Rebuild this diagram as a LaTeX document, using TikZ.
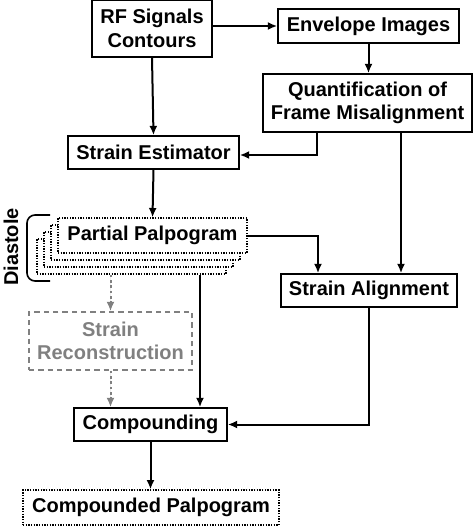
\documentclass[tikz,border=0pt]{standalone}
\usepackage{fontspec}
\setmainfont{Liberation Sans}
\usetikzlibrary{calc,arrows.meta}
\begin{document}
\begin{tikzpicture}[x=0.75pt,y=-0.75pt,
    box/.style={draw,line width=1.2pt,fill=white,inner sep=0pt,align=center,
      font=\fontsize{15}{17.5}\selectfont\bfseries},
    dotbox/.style={box,line width=1pt,dash pattern=on 1pt off 1pt},
    greybox/.style={box,draw=gray,text=gray,dash pattern=on 4pt off 3pt},
    arr/.style={-{Latex[length=7pt,width=6pt]},line width=1.5pt},
    greyarr/.style={arr,draw=gray,fill=gray,dash pattern=on 2pt off 2pt}]
      \useasboundingbox (0,0) rectangle (474,526);

      \node[box,minimum width=90pt,minimum height=42.75pt] (rf) at (152,28.5) {RF Signals\\Contours};
      \node[box,minimum width=135.75pt,minimum height=25.5pt] (env) at (368.5,26) {Envelope Images};
      \node[box,minimum width=156.75pt,minimum height=43.5pt] (quant) at (367.5,103) {Quantification of\\Frame Misalignment};
      \node[box,minimum width=128.25pt,minimum height=24.75pt] (est) at (153.5,152.5) {Strain Estimator};

      % stack of partial palpograms
      \node[dotbox,minimum width=141.75pt,minimum height=26.25pt] (pp3) at (131.5,256.5) {};
      \node[dotbox,minimum width=141.75pt,minimum height=26.25pt] (pp2) at (138.5,249.5) {};
      \node[dotbox,minimum width=141.75pt,minimum height=26.25pt] (pp1) at (145.5,242.5) {};
      \node[dotbox,minimum width=141.75pt,minimum height=26.25pt] (pp) at (152.5,235.5) {Partial Palpogram};
      \draw[line width=1.2pt,rounded corners=6pt] (50,215) -- (27,215) -- (27,281) -- (50,281);
      \node[rotate=90,font=\fontsize{15}{17.5}\selectfont\bfseries] (dia) at (11,247) {Diastole};

      \node[box,minimum width=132pt,minimum height=24.75pt] (align) at (369,290.5) {Strain Alignment};
      \node[greybox,minimum width=122.25pt,minimum height=43.5pt] (recon) at (110.5,341) {Strain\\Reconstruction};
      \node[box,minimum width=114.75pt,minimum height=24.75pt] (comp) at (150.5,424.5) {Compounding};
      \node[dotbox,minimum width=192pt,minimum height=26.25pt] (cpp) at (151,507.5) {Compounded Palpogram};

      \draw[arr] (rf.east |- env.west) -- (env.west);
      \draw[arr] (rf.south) -- (est.north);
      \draw[arr] (env.south) -- (env.south |- quant.north);
      \draw[arr] ($(quant.south)+(-50.5,0)$) |- ($(est.east)+(0,2.5)$);
      \draw[arr] (est.south) -- (pp.north);
      \draw[arr] ($(quant.south)+(33.5,0)$) -- ($(align.north)+(32,0)$);
      \draw[arr] (pp.east) -| ($(align.north)+(-51,0)$);
      \draw[greyarr] (recon.north |- pp3.south) -- (recon.north);
      \draw[greyarr] (recon.south) -- (recon.south |- comp.north);
      \draw[arr] ($(pp3.south)+(68.5,0)$) -- ($(comp.north)+(49.5,0)$);
      \draw[arr] (align.south) |- (comp.east);
      \draw[arr] (comp.south) -- (comp.south |- cpp.north);

    \end{tikzpicture}
\end{document}
